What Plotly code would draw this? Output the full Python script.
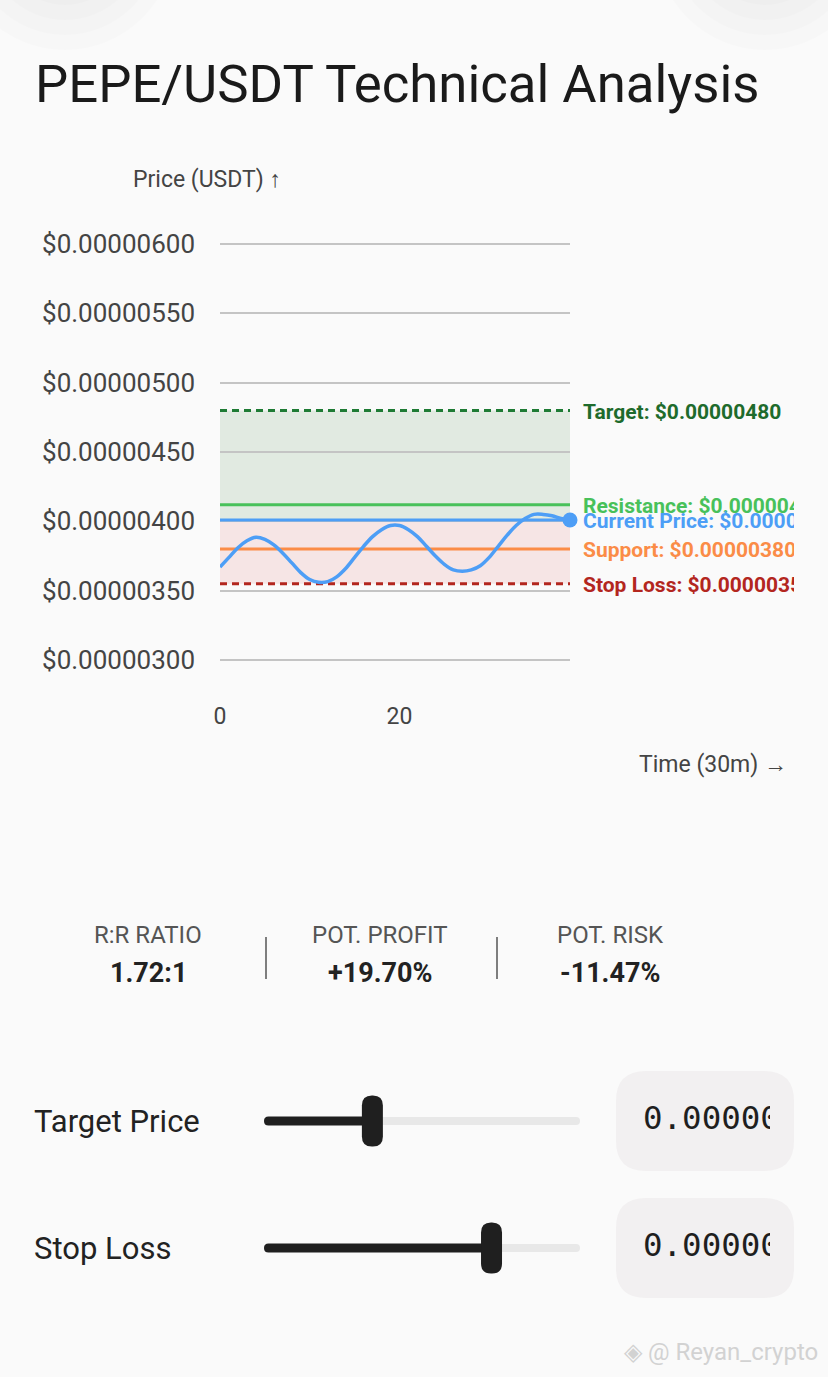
import plotly.graph_objects as go

W, H = 828, 1377
FONT = "Roboto"

# ---- data -------------------------------------------------------------
time_idx = list(range(40))
price = [3.67e-6, 3.74e-6, 3.81e-6, 3.86e-6, 3.885e-6, 3.87e-6, 3.83e-6, 3.77e-6,
         3.70e-6, 3.63e-6, 3.58e-6, 3.56e-6, 3.565e-6, 3.60e-6, 3.66e-6, 3.74e-6,
         3.82e-6, 3.89e-6, 3.94e-6, 3.97e-6, 3.97e-6, 3.94e-6, 3.89e-6, 3.82e-6,
         3.75e-6, 3.69e-6, 3.65e-6, 3.64e-6, 3.65e-6, 3.68e-6, 3.74e-6, 3.82e-6,
         3.90e-6, 3.97e-6, 4.02e-6, 4.05e-6, 4.05e-6, 4.04e-6, 4.02e-6, 4.01e-6]

level_names = ["Target", "Resistance", "Current Price", "Support", "Stop Loss"]
level_values = [4.80e-6, 4.12e-6, 4.01e-6, 3.80e-6, 3.55e-6]
level_colors = ["#1e6b2c", "#48c15a", "#4d9ef6", "#fb8c47", "#b3261e"]
level_line_colors = ["#1e7b34", "#48c15a", "#4d9ef6", "#fb8c47", "#b3261e"]
level_dash = ["7px,5px", "solid", "solid", "solid", "7px,5px"]

y_ticks = [3.0e-6, 3.5e-6, 4.0e-6, 4.5e-6, 5.0e-6, 5.5e-6, 6.0e-6]
y_tick_text = ["$0.00000300", "$0.00000350", "$0.00000400", "$0.00000450",
               "$0.00000500", "$0.00000550", "$0.00000600"]
x_ticks = [0, 20]

stat_labels = ["R:R RATIO", "POT. PROFIT", "POT. RISK"]
stat_values = ["1.72:1", "+19.70%", "-11.47%"]

slider_labels = ["Target Price", "Stop Loss"]
slider_fracs = [0.343, 0.72]
slider_inputs = ["0.00000480", "0.00000355"]


# ---- helpers (pixel -> paper) -----------------------------------------
def px(x):
    return x / W


def py(y):
    return 1 - y / H


def rrect(x0, y0, x1, y1, r):
    pts = [
        f"M {px(x0 + r)},{py(y0)}",
        f"L {px(x1 - r)},{py(y0)}",
        f"Q {px(x1)},{py(y0)} {px(x1)},{py(y0 + r)}",
        f"L {px(x1)},{py(y1 - r)}",
        f"Q {px(x1)},{py(y1)} {px(x1 - r)},{py(y1)}",
        f"L {px(x0 + r)},{py(y1)}",
        f"Q {px(x0)},{py(y1)} {px(x0)},{py(y1 - r)}",
        f"L {px(x0)},{py(y0 + r)}",
        f"Q {px(x0)},{py(y0)} {px(x0 + r)},{py(y0)}",
        "Z",
    ]
    return " ".join(pts)


fig = go.Figure()

# level lines
for name, val, col, dash in zip(level_names, level_values, level_line_colors, level_dash):
    fig.add_trace(go.Scatter(
        x=[time_idx[0], time_idx[-1]], y=[val, val], mode="lines",
        line=dict(color=col, width=3, dash=dash), hoverinfo="skip",
        xaxis="x", yaxis="y"))

# price wave
fig.add_trace(go.Scatter(
    x=time_idx, y=price, mode="lines",
    line=dict(color="#4d9ef6", width=3.5, shape="spline"),
    xaxis="x", yaxis="y"))

# current price dot
fig.add_trace(go.Scatter(
    x=[time_idx[-1]], y=[price[-1]], mode="markers",
    marker=dict(color="#4d9ef6", size=15), cliponaxis=False,
    xaxis="x", yaxis="y"))

# right-hand labels, clipped by their own subplot
for name, val, col in zip(level_names, level_values, level_colors):
    fig.add_trace(go.Scatter(
        x=[0.6324], y=[val], mode="text",
        text=[f"<b>{name}: ${val:.8f}</b>"], textposition="middle right",
        textfont=dict(family=FONT, size=21, color=col),
        cliponaxis=True, hoverinfo="skip", xaxis="x2", yaxis="y2"))

# input box texts, clipped
for i, t in enumerate(slider_inputs):
    fig.add_trace(go.Scatter(
        x=[0.175], y=[i], mode="text", text=[t], textposition="middle right",
        textfont=dict(family="DejaVu Sans Mono", size=32.5, color="#1f1f1f"),
        cliponaxis=True, hoverinfo="skip", xaxis="x3", yaxis="y3"))

shapes = []

# soft blobs at the top corners
for cx, cy in [(65, -60), (765, -60)]:
    for r in [110, 95, 80, 65]:
        shapes.append(dict(type="circle", xref="paper", yref="paper",
                           x0=px(cx - r), x1=px(cx + r), y0=py(cy + r), y1=py(cy - r),
                           fillcolor="rgba(0,0,0,0.012)", line=dict(width=0), layer="below"))

# reward / risk zones
shapes.append(dict(type="rect", xref="x", yref="y", x0=time_idx[0], x1=time_idx[-1],
                   y0=level_values[2], y1=level_values[0],
                   fillcolor="rgba(46,125,50,0.12)", line=dict(width=0), layer="below"))
shapes.append(dict(type="rect", xref="x", yref="y", x0=time_idx[0], x1=time_idx[-1],
                   y0=level_values[4], y1=level_values[2],
                   fillcolor="rgba(211,47,47,0.1)", line=dict(width=0), layer="below"))

# stat separators
for sx in [266, 497]:
    shapes.append(dict(type="line", xref="paper", yref="paper",
                       x0=px(sx), x1=px(sx), y0=py(937), y1=py(979),
                       line=dict(color="#555555", width=1.5)))

# sliders and input boxes
track_x0, track_x1 = 264, 580
for row, (frac, cy) in enumerate(zip(slider_fracs, [1121, 1248])):
    tx = track_x0 + frac * (track_x1 - track_x0)
    shapes.append(dict(type="path", xref="paper", yref="paper",
                       path=rrect(track_x0, cy - 4, track_x1, cy + 4, 4),
                       fillcolor="#e8e8e8", line=dict(width=0)))
    shapes.append(dict(type="path", xref="paper", yref="paper",
                       path=rrect(track_x0, cy - 4.5, tx, cy + 4.5, 4.5),
                       fillcolor="#1f1f1f", line=dict(width=0)))
    shapes.append(dict(type="path", xref="paper", yref="paper",
                       path=rrect(tx - 10.5, cy - 25.5, tx + 10.5, cy + 25.5, 10),
                       fillcolor="#1f1f1f", line=dict(width=0)))
    shapes.append(dict(type="path", xref="paper", yref="paper",
                       path=rrect(616, cy - 50, 794, cy + 50, 30),
                       fillcolor="#f2f0f1", line=dict(width=0), layer="below"))

annotations = [
    dict(text="PEPE/USDT Technical Analysis", x=px(33), y=py(84), xanchor="left",
         yanchor="middle", font=dict(family=FONT, size=52.7, color="#1a1a1a")),
    dict(text="Price (USDT) ↑", x=px(283), y=py(180), xanchor="right",
         yanchor="middle", font=dict(family=FONT, size=23, color="#444444")),
    dict(text="Time (30m) →", x=px(789), y=py(764), xanchor="right",
         yanchor="middle", font=dict(family=FONT, size=23, color="#444444")),
    dict(text="◈ @ Reyan_crypto", x=px(820), y=py(1352), xanchor="right",
         yanchor="middle", font=dict(family=FONT, size=24, color="#d2d2d2")),
]
for lab, val, cx in zip(stat_labels, stat_values, [148, 380, 610]):
    annotations.append(dict(text=lab, x=px(cx), y=py(935), xanchor="center",
                            yanchor="middle",
                            font=dict(family=FONT, size=24, color="#555555")))
    annotations.append(dict(text=f"<b>{val}</b>", x=px(cx), y=py(973), xanchor="center",
                            yanchor="middle",
                            font=dict(family=FONT, size=27, color="#222222")))
for lab, cy in zip(slider_labels, [1121, 1248]):
    annotations.append(dict(text=lab, x=px(32), y=py(cy), xanchor="left",
                            yanchor="middle",
                            font=dict(family=FONT, size=31, color="#222222")))
for a in annotations:
    a.update(xref="paper", yref="paper", showarrow=False)

# a little slack at both ends so the edge gridlines are kept
y_range = [2.985e-6, 6.015e-6]
y_dom = [py(662.08), py(241.92)]
y_dom_labels = [py(665.08), py(244.92)]  # text sits ~3px high otherwise
fig.update_layout(
    width=W, height=H,
    margin=dict(l=0, r=0, t=0, b=0, pad=0),
    paper_bgcolor="#fafafa", plot_bgcolor="rgba(0,0,0,0)",
    showlegend=False,
    shapes=shapes, annotations=annotations,
    xaxis=dict(domain=[px(220), px(570)], range=[time_idx[0], time_idx[-1]],
               tickvals=x_ticks, showgrid=False, zeroline=False, showline=False,
               ticks="", ticklabelstandoff=38, automargin=False,
               tickfont=dict(family=FONT, size=23, color="#444444"), anchor="y"),
    yaxis=dict(domain=y_dom, range=y_range,
               tickvals=y_ticks, ticktext=y_tick_text,
               showgrid=True, gridcolor="#c4c4c4", gridwidth=2,
               zeroline=False, showline=False, ticks="", ticklabelstandoff=24,
               automargin=False,
               tickfont=dict(family=FONT, size=26, color="#444444"), anchor="x"),
    xaxis2=dict(domain=[px(220), px(794)], range=[0, 1], visible=False, anchor="y2",
                automargin=False),
    yaxis2=dict(domain=y_dom_labels, range=y_range, visible=False, anchor="x2",
                showgrid=False, automargin=False),
    xaxis3=dict(domain=[px(616), px(770)], range=[0, 1], visible=False, anchor="y3",
                automargin=False),
    yaxis3=dict(domain=[py(1310), py(1060)], range=[1.488, -0.48], visible=False,
                anchor="x3", automargin=False),
)

fig.write_html("out.html", config={"displayModeBar": False},
               post_script="document.body.style.margin='0';")
